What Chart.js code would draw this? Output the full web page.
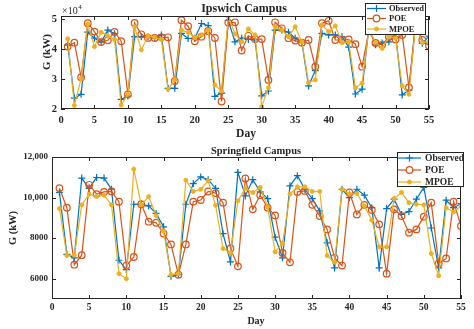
<!DOCTYPE html>
<html>
<head>
<meta charset="utf-8">
<script src="https://cdn.jsdelivr.net/npm/chart.js@4.4.0/dist/chart.umd.min.js"></script>
<style>
  html, body { margin: 0; padding: 0; background: #fff; }
  #wrap { position: relative; width: 474px; height: 329px; overflow: hidden; }
  canvas { position: absolute; left: 0; }
  #ipswich { top: 0; }
  #springfield { top: 142px; }
</style>
</head>
<body>
<div id="wrap">
  <canvas id="ipswich" width="474" height="142"></canvas>
  <canvas id="springfield" width="474" height="187"></canvas>
</div>
<script>
// Days 1..55 on the x axis
const days = Array.from({ length: 55 }, (_, i) => i + 1);
const xTicks = [0, 5, 10, 15, 20, 25, 30, 35, 40, 45, 50, 55];

// Ipswich Campus, G in units of 10^4 kW
const ipsObserved = [4.13, 2.36, 2.49, 4.56, 4.36, 4.23, 4.63, 4.51, 2.32, 2.43,
  4.41, 4.41, 4.41, 4.36, 4.47, 2.69, 2.69, 4.52, 4.35, 4.36,
  4.85, 4.78, 2.42, 2.53, 4.95, 4.24, 4.36, 4.32, 4.30, 2.44,
  2.60, 4.63, 4.63, 4.56, 4.36, 4.21, 2.77, 3.28, 4.52, 4.47,
  4.47, 4.41, 4.06, 2.50, 2.66, 4.70, 4.14, 4.20, 4.24, 4.52,
  2.47, 2.63, 4.90, 4.19, 4.43];
const ipsPOE = [4.08, 4.21, 3.06, 4.86, 4.58, 4.23, 4.29, 4.57, 4.26, 2.49,
  4.87, 4.49, 4.37, 4.37, 4.39, 4.39, 2.93, 4.96, 4.76, 4.26,
  4.41, 4.60, 4.37, 2.25, 4.88, 4.89, 3.95, 4.44, 4.33, 4.33,
  2.97, 4.89, 4.69, 4.36, 4.28, 4.21, 4.30, 3.41, 4.86, 4.94,
  4.30, 4.30, 4.32, 4.16, 3.41, 4.60, 4.20, 4.14, 4.41, 4.32,
  4.47, 2.72, 4.85, 4.30, 4.11];
const ipsMPOE = [4.34, 2.12, 3.01, 4.83, 4.08, 4.56, 4.43, 4.32, 2.13, 2.49,
  4.74, 3.97, 4.43, 4.39, 4.32, 2.66, 2.97, 4.63, 4.55, 4.39,
  4.47, 4.63, 2.80, 2.60, 5.08, 4.50, 4.24, 4.67, 4.47, 2.08,
  2.71, 4.74, 4.63, 4.41, 4.74, 4.24, 2.88, 2.97, 4.80, 4.58,
  4.77, 4.21, 4.24, 2.71, 2.86, 4.65, 4.22, 4.02, 4.41, 4.36,
  2.77, 2.49, 4.80, 4.21, 4.24];
const ipsTicks = [2, 3, 4, 5];
const ipsTickLabels = ["2", "3", "4", "5"];

// Springfield Campus, G in kW
const sprObserved = [10250, 7200, 7030, 10960, 10450, 10990, 10960, 10410, 6910, 6450,
  9670, 9670, 9590, 9220, 8560, 6120, 6200, 9670, 10690, 11020,
  10880, 10450, 8220, 6830, 11240, 10080, 10880, 10280, 9950, 8050,
  7030, 10580, 11080, 10410, 9950, 9340, 7770, 6530, 10410, 10000,
  10410, 10120, 9500, 6530, 9460, 9920, 9170, 9310, 9920, 10500,
  8500, 6530, 9870, 9500, 9700];
const sprPOE = [10460, 9500, 6690, 7160, 10630, 10170, 10280, 10300, 9800, 6650,
  7070, 9670, 8810, 8760, 8230, 7690, 6200, 7690, 9800, 9880,
  10300, 10220, 9750, 7490, 6610, 10940, 9420, 10120, 9500, 9120,
  7270, 6810, 10280, 10330, 9640, 9090, 8430, 7030, 6650, 10250,
  9170, 9640, 9390, 8680, 6250, 9420, 9090, 8270, 8430, 9060,
  9750, 6750, 7000, 9800, 8600];
const sprMPOE = [9460, 7140, 7160, 9640, 10170, 10050, 10120, 9640, 6250, 6000,
  11400, 9640, 10050, 9120, 8350, 6200, 6250, 10860, 10300, 10410,
  10830, 9620, 7490, 7270, 9840, 10450, 10250, 10500, 9550, 7320,
  7740, 10170, 10530, 10530, 10300, 10300, 7140, 6810, 10410, 10170,
  10200, 9590, 8880, 7570, 7570, 9950, 10250, 9750, 9670, 9640,
  7240, 6150, 9500, 9290, 9590];
const sprTicks = [6000, 8000, 10000, 12000];
const sprTickLabels = ["6000", "8000", "10,000", "12,000"];

const seriesNames = ["Observed", "POE", "MPOE"];
const seriesColors = ["#0072BD", "#D95319", "#EDB120"];

const SERIF = "'Liberation Serif', 'Times New Roman', serif";
const INK = "#262626";

function makeDatasets(values) {
  return [
    {
      label: seriesNames[0],
      data: days.map((d, i) => ({ x: d, y: values[0][i] })),
      borderColor: seriesColors[0],
      pointBorderColor: seriesColors[0],
      pointStyle: "cross",
      pointRadius: 3.5,
      pointBorderWidth: 1.2,
      order: 3,
    },
    {
      label: seriesNames[1],
      data: days.map((d, i) => ({ x: d, y: values[1][i] })),
      borderColor: seriesColors[1],
      pointBorderColor: seriesColors[1],
      pointBackgroundColor: "rgba(255,255,255,0)",
      pointStyle: "circle",
      pointRadius: 3.3,
      pointBorderWidth: 1.2,
      order: 2,
    },
    {
      label: seriesNames[2],
      data: days.map((d, i) => ({ x: d, y: values[2][i] })),
      borderColor: seriesColors[2],
      pointBorderColor: seriesColors[2],
      pointBackgroundColor: seriesColors[2],
      pointStyle: "circle",
      pointRadius: 2,
      pointBorderWidth: 1,
      order: 1,
    },
  ];
}

// draws the box, inward ticks, titles and the legend
const framePlugin = {
  id: "frame",
  afterDraw(chart, args, o) {
    const { ctx, chartArea: a, scales } = chart;
    const x = scales.x, y = scales.y;
    ctx.save();
    ctx.strokeStyle = INK;
    ctx.lineWidth = 1;
    ctx.strokeRect(a.left + 0.5, a.top + 0.5, a.right - a.left - 1, a.bottom - a.top - 1);
    ctx.beginPath();
    x.ticks.forEach((t) => {
      const px = Math.round(x.getPixelForValue(t.value)) + 0.5;
      ctx.moveTo(px, a.bottom);
      ctx.lineTo(px, a.bottom - 4);
      ctx.moveTo(px, a.top);
      ctx.lineTo(px, a.top + 4);
    });
    y.ticks.forEach((t) => {
      const py = Math.round(y.getPixelForValue(t.value)) + 0.5;
      ctx.moveTo(a.left, py);
      ctx.lineTo(a.left + 4, py);
      ctx.moveTo(a.right, py);
      ctx.lineTo(a.right - 4, py);
    });
    ctx.stroke();

    ctx.fillStyle = INK;
    ctx.textAlign = "center";
    ctx.textBaseline = "middle";
    ctx.font = "bold " + o.titleSize + "px " + SERIF;
    ctx.fillText(o.title, o.titleX, o.titleY);
    ctx.font = "bold " + o.xLabelSize + "px " + SERIF;
    ctx.fillText("Day", o.xLabelX, o.xLabelY);
    ctx.save();
    ctx.translate(o.yLabelX, o.yLabelY);
    ctx.rotate(-Math.PI / 2);
    ctx.font = "bold " + o.yLabelSize + "px " + SERIF;
    ctx.fillText("G (kW)", 0, 0);
    ctx.restore();

    if (o.exponent) {
      ctx.textAlign = "left";
      ctx.font = "10px " + SERIF;
      ctx.fillText("\u00d710", o.exponent.x, o.exponent.y);
      const w = ctx.measureText("\u00d710").width;
      ctx.font = "7px " + SERIF;
      ctx.fillText("4", o.exponent.x + w + 0.5, o.exponent.y - 4);
    }

    // legend
    const L = o.legend;
    ctx.fillStyle = "#fff";
    ctx.fillRect(L.x, L.y, L.w, L.h);
    ctx.strokeStyle = INK;
    ctx.lineWidth = 1;
    ctx.strokeRect(L.x + 0.5, L.y + 0.5, L.w - 1, L.h - 1);
    ctx.font = "bold " + L.size + "px " + SERIF;
    ctx.textAlign = "left";
    chart.data.datasets.forEach((ds, i) => {
      const ry = L.rows[i];
      const mx = (L.x0 + L.x1) / 2;
      ctx.strokeStyle = seriesColors[i];
      ctx.lineWidth = 1.2;
      ctx.beginPath();
      ctx.moveTo(L.x0, ry);
      ctx.lineTo(L.x1, ry);
      ctx.stroke();
      ctx.fillStyle = i === 1 ? "#fff" : seriesColors[i];
      ctx.lineWidth = ds.pointBorderWidth;
      Chart.helpers.drawPoint(ctx, {
        pointStyle: ds.pointStyle,
        radius: ds.pointRadius,
        rotation: 0,
        borderWidth: ds.pointBorderWidth,
      }, mx, ry);
      ctx.fillStyle = INK;
      ctx.fillText(ds.label, L.tx, ry + 0.5);
    });
    ctx.restore();
  },
};

function makeChart(id, values, yMin, yMax, yTicks, yLabels, area, tickSize, frame) {
  const canvas = document.getElementById(id);
  return new Chart(canvas, {
    type: "line",
    data: { datasets: makeDatasets(values) },
    options: {
      responsive: false,
      animation: false,
      devicePixelRatio: 1,
      layout: { padding: { left: 0, right: canvas.width - area.right, top: area.top, bottom: 0 } },
      elements: { line: { borderWidth: 1.2, tension: 0 } },
      scales: {
        x: {
          type: "linear",
          min: 0,
          max: 55,
          grid: { display: false, drawTicks: false },
          border: { display: false },
          afterBuildTicks: (s) => { s.ticks = xTicks.map((v) => ({ value: v })); },
          afterFit: (s) => { s.height = canvas.height - area.bottom; },
          ticks: {
            padding: frame.xTickPad,
            color: INK,
            maxRotation: 0,
            autoSkip: false,
            font: { family: SERIF, size: tickSize.x, weight: "bold" },
          },
        },
        y: {
          min: yMin,
          max: yMax,
          grid: { display: false, drawTicks: false },
          border: { display: false },
          afterBuildTicks: (s) => { s.ticks = yTicks.map((v) => ({ value: v })); },
          afterFit: (s) => { s.width = area.left; },
          ticks: {
            padding: 4,
            color: INK,
            font: { family: SERIF, size: tickSize.y, weight: "bold" },
            callback: (v) => {
              const k = yTicks.indexOf(v);
              return k >= 0 ? yLabels[k] : "";
            },
          },
        },
      },
      plugins: {
        legend: { display: false },
        tooltip: { enabled: false },
        frame: frame,
      },
    },
    plugins: [framePlugin],
  });
}

makeChart("ipswich", [ipsObserved, ipsPOE, ipsMPOE], 2, 5.1, ipsTicks, ipsTickLabels,
  { left: 61, right: 429, top: 16, bottom: 109 }, { x: 10.5, y: 10.5 },
  {
    title: "Ipswich Campus", titleSize: 12, titleX: 244, titleY: 8.5,
    xLabelSize: 11.5, xLabelX: 246, xLabelY: 134.5, xTickPad: 5,
    yLabelSize: 11, yLabelX: 47, yLabelY: 52,
    exponent: { x: 62, y: 11 },
    legend: { x: 365, y: 3, w: 61, h: 32, rows: [8.5, 18.5, 29], x0: 367, x1: 386, tx: 389, size: 8.5 },
  });

makeChart("springfield", [sprObserved, sprPOE, sprMPOE], 5000, 12000, sprTicks, sprTickLabels,
  { left: 52, right: 461, top: 15, bottom: 157 }, { x: 9.5, y: 9 },
  {
    title: "Springfield Campus", titleSize: 10.5, titleX: 256, titleY: 9,
    xLabelSize: 10, xLabelX: 256, xLabelY: 179, xTickPad: 3,
    yLabelSize: 10.5, yLabelX: 13.5, yLabelY: 86,
    exponent: null,
    legend: { x: 397, y: 10, w: 67, h: 35, rows: [16, 28, 40], x0: 398, x1: 421, tx: 425, size: 9.5 },
  });
</script>
</body>
</html>
